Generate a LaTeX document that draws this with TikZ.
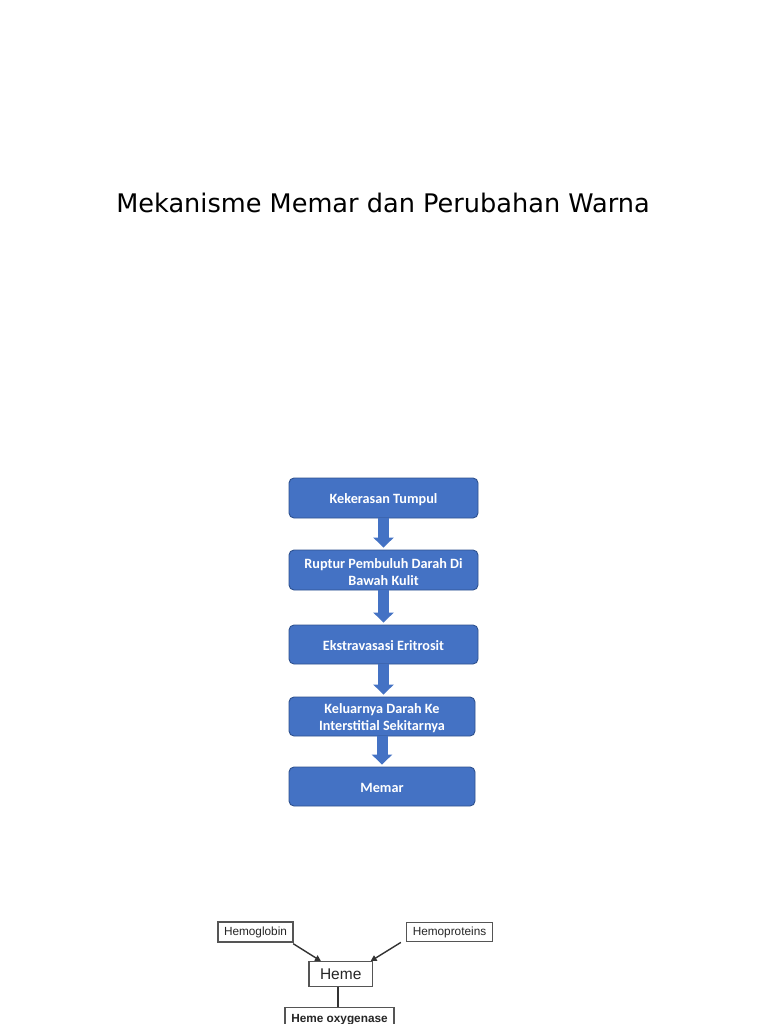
\documentclass[tikz,border=0pt]{standalone}
\usepackage{fontspec}
\setmainfont{Carlito}
\newfontfamily\titlefont{DejaVu Sans}
\newfontfamily\arialfont{Liberation Sans}
\usetikzlibrary{arrows.meta}
\definecolor{boxblue}{HTML}{4472C4}
\definecolor{boxedge}{HTML}{2F528F}
\definecolor{greyedge}{HTML}{555555}
\newcommand{\firststrut}{\rule{0pt}{13.5pt}}
\begin{document}
\begin{tikzpicture}[x=1pt,y=1pt,
  flowbox/.style={draw=boxedge, line width=0.9pt, fill=boxblue, rounded corners=5pt,
    inner sep=0pt, align=center, text=white,
    font=\fontsize{14.2}{17}\selectfont\bfseries},
  oneline/.style={text height=14pt, text depth=3pt},
  blockarrow/.style={draw=boxblue, line width=11pt,
    -{Triangle[width=20pt,length=10pt]}, shorten >=2pt},
  greybox/.style={draw=greyedge, line width=1.3pt, fill=white, inner sep=0pt,
    text=black!85},
  thinarrow/.style={draw=black!80, line width=1.4pt, -{Triangle[width=6pt,length=6pt]}}
]
\clip (0,0) rectangle (768,-1024);
\useasboundingbox (0,0) rectangle (768,-1024);
\fill[white] (0,0) rectangle (768,-1024);

\node[anchor=base, font=\titlefont\fontsize{25.6}{30}\selectfont] (title) at (383,-213)
  {Mekanisme Memar dan Perubahan Warna};

\node[flowbox, oneline, minimum width=189pt, minimum height=40pt] (b1) at (383.5,-498) {Kekerasan Tumpul};
\node[flowbox, minimum width=189pt, minimum height=40pt] (b2) at (383.5,-570) {\firststrut Ruptur Pembuluh Darah Di\\Bawah Kulit};
\node[flowbox, oneline, minimum width=189pt, minimum height=39pt] (b3) at (383.5,-644.5) {Ekstravasasi Eritrosit};
\node[flowbox, minimum width=186pt, minimum height=39pt] (b4) at (382,-716.5) {\firststrut Keluarnya Darah Ke\\Interstitial Sekitarnya};
\node[flowbox, oneline, minimum width=186pt, minimum height=39pt] (b5) at (382,-786.5) {Memar};

\draw[blockarrow] (b1.south) -- (b1.south |- b2.north);
\draw[blockarrow] (b2.south) -- (b2.south |- b3.north);
\draw[blockarrow] (b3.south) -- (b3.south |- b4.north);
\draw[blockarrow] (b4.south) -- (b4.south |- b5.north);

\node[greybox, minimum width=75pt, minimum height=20pt,
  font=\arialfont\fontsize{11.8}{14}\selectfont] (hb) at (255.5,-932) {Hemoglobin};
\node[greybox, minimum width=86pt, minimum height=19.5pt,
  font=\arialfont\fontsize{11.8}{14}\selectfont] (hp) at (449.5,-932) {Hemoproteins};
\node[greybox, minimum width=63.5pt, minimum height=25pt,
  font=\arialfont\fontsize{15.5}{18}\selectfont] (heme) at (340.7,-974.3) {Heme};
\node[greybox, minimum width=109pt, anchor=north, inner ysep=6pt,
  text height=8.5pt, text depth=2.5pt,
  font=\arialfont\bfseries\fontsize{11.8}{14}\selectfont] (ho) at (339.5,-1007) {Heme oxygenase};

\draw[thinarrow] ([xshift=-0.5pt,yshift=-1pt]hb.south east) -- ([xshift=12.7pt]heme.north west);
\draw[thinarrow] ([xshift=-5pt]hp.south west) -- ([xshift=-2.5pt]heme.north east);
\draw[draw=black!80, line width=1.6pt] ([xshift=-3pt]heme.south) -- ([xshift=-3pt]heme.south |- ho.north);
\end{tikzpicture}
\end{document}
